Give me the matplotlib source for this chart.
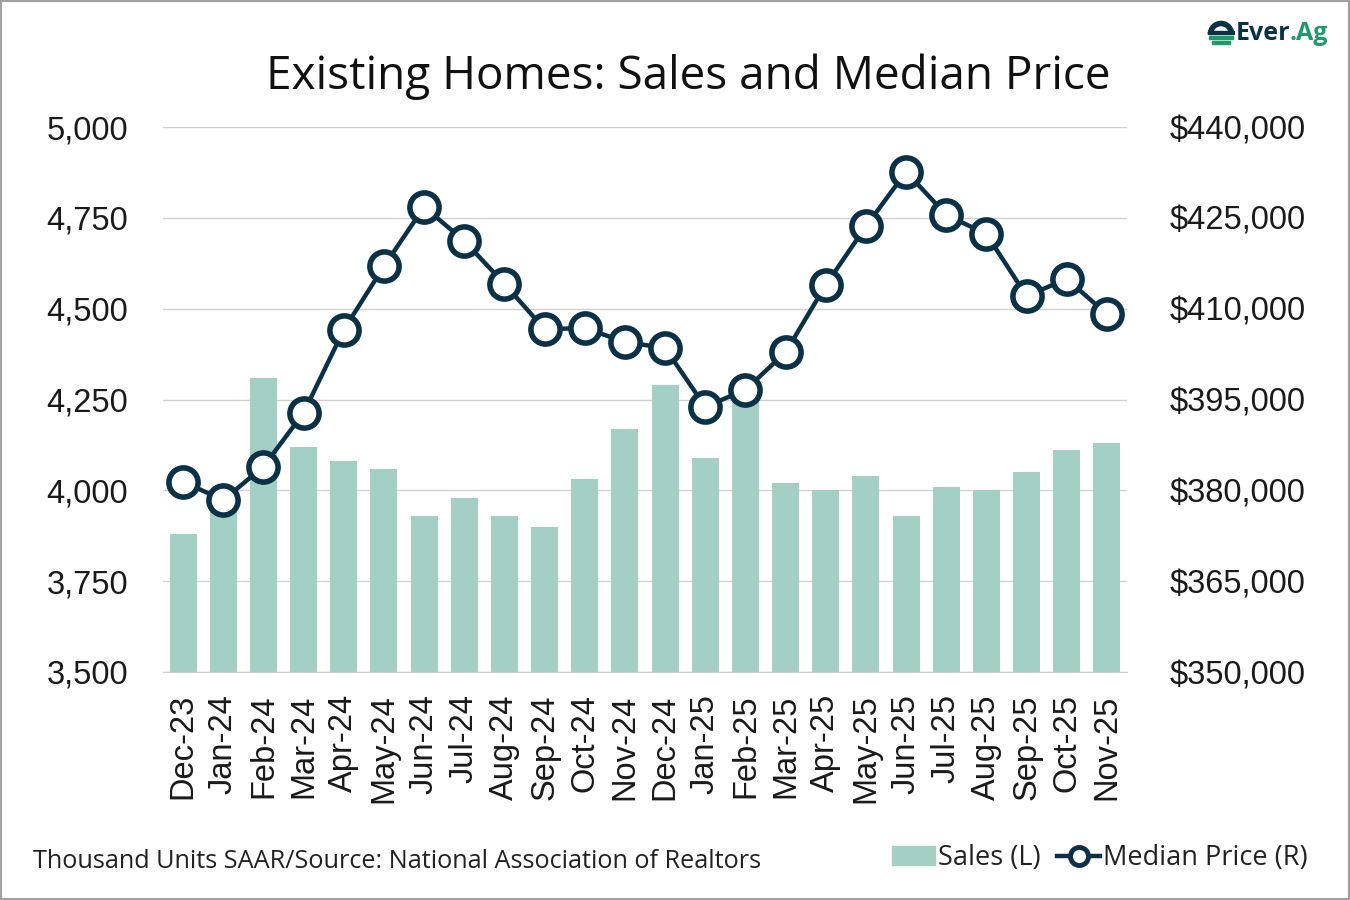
import matplotlib
matplotlib.use("Agg")
import matplotlib.pyplot as plt
from matplotlib.patches import Rectangle, Wedge
from matplotlib.lines import Line2D

months = ["Dec-23", "Jan-24", "Feb-24", "Mar-24", "Apr-24", "May-24", "Jun-24", "Jul-24",
          "Aug-24", "Sep-24", "Oct-24", "Nov-24", "Dec-24", "Jan-25", "Feb-25", "Mar-25",
          "Apr-25", "May-25", "Jun-25", "Jul-25", "Aug-25", "Sep-25", "Oct-25", "Nov-25"]
sales = [3880, 4000, 4310, 4120, 4080, 4060, 3930, 3980, 3930, 3900, 4030, 4170,
         4290, 4090, 4260, 4020, 4000, 4040, 3930, 4010, 4000, 4050, 4110, 4130]
price = [381400, 378400, 383900, 392800, 406500, 417000, 426800, 421200, 414100, 406600,
         406800, 404500, 403500, 393800, 396600, 402800, 413900, 423600, 432600, 425500,
         422300, 412100, 414900, 409100]
left_ticks = [3500, 3750, 4000, 4250, 4500, 4750, 5000]
right_ticks = [350000, 365000, 380000, 395000, 410000, 425000, 440000]

bar_color = "#A3CFC4"
line_color = "#0B3146"
green = "#1E9A6A"
tick_font = "Liberation Sans"
text_font = "Open Sans"

fig = plt.figure(figsize=(13.5, 9), dpi=100)
fig.patch.set_facecolor("white")
fig.add_artist(Rectangle((0.001, 0.001), 0.998, 0.998, transform=fig.transFigure,
                         fill=False, edgecolor="#A0A0A0", linewidth=1.5))

ax = fig.add_axes([163/1350, 1-672/900, (1127-163)/1350, (672-127)/900])
x = list(range(len(months)))
ax.bar(x, sales, width=0.67, color=bar_color, zorder=2)
ax.set_ylim(3500, 5000)
ax.set_xlim(-0.5, len(months)-0.5)
ax.set_yticks(left_ticks)
ax.set_yticklabels([f"{v:,}" for v in left_ticks], fontsize=23.5, family=tick_font)
ax.set_xticks(x)
ax.set_xticklabels(months, rotation=90, fontsize=23.5, family=tick_font)
ax.grid(axis="y", color="#D0D0D0", linewidth=1, zorder=0)
ax.set_axisbelow(True)
for s in ["top", "right", "left"]:
    ax.spines[s].set_visible(False)
ax.spines["bottom"].set_color("#D0D0D0")
ax.tick_params(axis="both", length=0, colors="#1A1A1A")
ax.tick_params(axis="y", pad=25)
ax.tick_params(axis="x", pad=16)

ax2 = ax.twinx()
ax2.plot(x, price, color=line_color, linewidth=3.2, marker="o", markersize=21,
         markerfacecolor="white", markeredgecolor=line_color, markeredgewidth=4, zorder=5)
ax2.set_ylim(350000, 440000)
ax2.set_yticks(right_ticks)
ax2.set_yticklabels([f"${v:,}" for v in right_ticks], fontsize=23.5, family=tick_font)
for s in ax2.spines.values():
    s.set_visible(False)
ax2.tick_params(axis="y", length=0, pad=31, colors="#1A1A1A")

fig.text(688/1350, 1-77/900, "Existing Homes: Sales and Median Price", ha="center", va="center",
         fontsize=33, family=text_font, color="#111111")
fig.text(33/1350, 1-861/900, "Thousand Units SAAR/Source: National Association of Realtors",
         ha="left", va="center", fontsize=18.2, family=text_font, color="#222222")

handles = [Rectangle((0, 0), 1, 1, color=bar_color),
           Line2D([0], [0], color=line_color, linewidth=3.2, marker="o", markersize=13,
                  markerfacecolor="white", markeredgecolor=line_color, markeredgewidth=3.5)]
leg = fig.legend(handles, ["Sales (L)", "Median Price (R)"], loc="center right",
                 bbox_to_anchor=(1332/1350, 1-858/900), ncol=2, frameon=False,
                 prop={"family": text_font, "size": 19.5}, handlelength=1.6,
                 handletextpad=0.1, columnspacing=0.6)
for t in leg.get_texts():
    t.set_color("#222222")

# logo icon
lax = fig.add_axes([1207/1350, 1-48/900, 28/1350, 28/900])
lax.set_xlim(-1, 1)
lax.set_ylim(-1, 1)
lax.set_aspect("equal")
lax.axis("off")
lax.add_patch(Wedge((0, 0), 0.9, 0, 180, width=0.3, color=line_color))
lax.add_patch(Rectangle((-0.9, 0.0), 1.8, 0.25, color=line_color))
lax.add_patch(Rectangle((-0.85, -0.35), 1.7, 0.2, color=green))
lax.add_patch(Rectangle((-0.65, -0.7), 1.3, 0.2, color=green))
fig.text(1236/1350, 1-33/900, "Ever", ha="left", va="center", fontsize=18, fontweight="bold",
         family=text_font, color=line_color)
fig.text(1290/1350, 1-33/900, ".Ag", ha="left", va="center", fontsize=18, fontweight="bold",
         family=text_font, color=green)

fig.savefig("out.png", dpi=100, facecolor="white")
